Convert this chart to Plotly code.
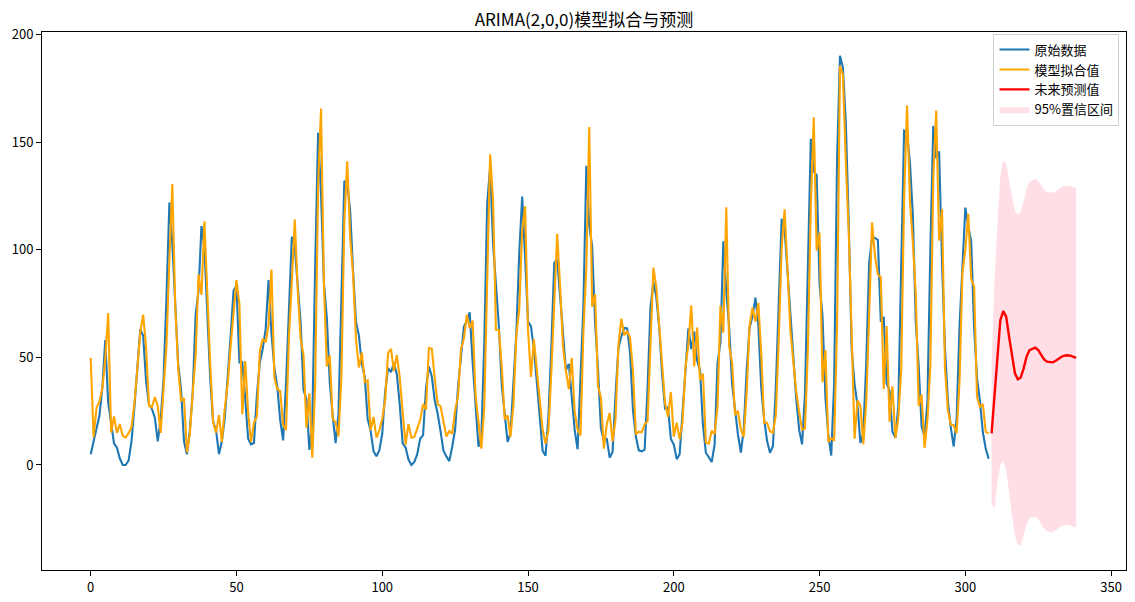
import plotly.graph_objects as go

# Original yearly series (index 0..308)
observed = [5, 11, 16, 23, 36, 58, 29, 20, 10, 8, 3, 0, 0, 2, 11, 27, 47, 63, 60, 39,
            28, 26, 22, 11, 21, 40, 78, 122, 103, 73, 47, 35, 11, 5, 16, 34, 70, 81, 111, 101,
            73, 40, 20, 16, 5, 11, 22, 40, 60, 80.9, 83.4, 47.7, 47.8, 30.7, 12.2, 9.6, 10.2, 32.4, 47.6, 54,
            62.9, 85.9, 61.2, 45.1, 36.4, 20.9, 11.4, 37.8, 69.8, 106.1, 100.8, 81.6, 66.5, 34.8, 30.6, 7, 19.8, 92.5, 154.4, 125.9,
            84.8, 68.1, 38.5, 22.8, 10.2, 24.1, 82.9, 132, 130.9, 118.1, 89.9, 66.6, 60, 46.9, 41, 21.3, 16, 6.4, 4.1, 6.8,
            14.5, 34, 45, 43.1, 47.5, 42.2, 28.1, 10.1, 8.1, 2.5, 0, 1.4, 5, 12.2, 13.9, 35.4, 45.8, 41.1, 30.1, 23.9,
            15.6, 6.6, 4, 1.8, 8.5, 16.6, 36.3, 49.6, 64.2, 67, 70.9, 47.8, 27.5, 8.5, 13.2, 56.9, 121.5, 138.3, 103.2, 85.7,
            64.6, 36.7, 24.2, 10.7, 15, 40.1, 61.5, 98.5, 124.7, 96.3, 66.6, 64.5, 54.1, 39, 20.6, 6.7, 4.3, 22.7, 54.8, 93.8,
            95.8, 77.2, 59.1, 44, 47, 30.5, 16.3, 7.3, 37.6, 74, 139, 111.2, 101.6, 66.2, 44.7, 17, 11.3, 12.4, 3.4, 6,
            32.3, 54.3, 59.7, 63.7, 63.5, 52.2, 25.4, 13.1, 6.8, 6.3, 7.1, 35.6, 73, 85.1, 78, 64, 41.8, 26.2, 26.7, 12.1,
            9.5, 2.7, 5, 24.4, 42, 63.5, 53.8, 62, 48.5, 43.9, 18.6, 5.7, 3.6, 1.4, 9.6, 47.4, 57.1, 103.9, 80.6, 63.6,
            37.6, 26.1, 14.2, 5.8, 16.7, 44.3, 63.9, 69, 77.8, 64.9, 35.7, 21.2, 11.1, 5.7, 8.7, 36.1, 79.7, 114.4, 109.6, 88.8,
            67.8, 47.5, 30.6, 16.3, 9.6, 33.2, 92.6, 151.6, 136.3, 134.7, 83.9, 69.4, 31.5, 13.9, 4.4, 38, 141.7, 190.2, 184.8, 159,
            112.3, 53.9, 37.6, 27.9, 10.2, 15.1, 47, 93.8, 105.9, 105.5, 104.5, 66.6, 68.9, 38, 34.5, 15.5, 12.6, 27.5, 92.5, 155.4,
            154.6, 140.4, 115.9, 66.6, 45.9, 17.9, 13.4, 29.4, 100.2, 157.6, 142.6, 145.7, 94.3, 54.6, 29.9, 17.5, 8.6, 21.5, 64.3, 93.3,
            119.6, 111, 104, 63.7, 40.4, 29.8, 15.2, 7.5, 2.9]

# In-sample fitted values (index 0..308)
fitted = [49.7, 12.9, 26.6, 29.5, 35.7, 49.0, 70.6, 15.1, 22.6, 14.9,
          19.0, 13.5, 12.7, 14.8, 17.6, 28.7, 44.7, 61.5, 69.9, 54.7,
          27.6, 26.8, 31.6, 27.4, 14.9, 36.4, 55.9, 95.6, 130.6, 73.8,
          45.2, 29.8, 31.0, 5.9, 14.2, 33.6, 51.0, 88.6, 79.1, 113.2,
          78.6, 46.6, 20.0, 15.0, 23.2, 10.7, 26.6, 37.8, 55.2, 70.6,
          85.9, 74.9, 23.6, 48.3, 24.5, 10.6, 19.7, 22.4, 52.8, 58.6,
          57.0, 65.0, 90.8, 40.6, 35.3, 34.3, 18.7, 16.2, 59.5, 85.7,
          114.1, 81.7, 58.7, 50.9, 17.3, 33.3, 3.4, 37.5, 129.7, 165.6,
          83.3, 45.8, 51.0, 21.3, 19.9, 13.3, 41.3, 113.4, 141.1, 105.7,
          88.6, 58.3, 45.3, 52.3, 38.6, 39.4, 16.1, 22.3, 12.7, 16.1,
          21.4, 30.3, 52.1, 53.9, 43.7, 51.1, 40.7, 24.7, 9.5, 19.1,
          12.7, 13.1, 16.8, 20.8, 28.3, 25.7, 54.4, 54.0, 40.3, 28.3,
          27.3, 20.0, 13.2, 15.8, 14.5, 25.4, 32.0, 53.8, 58.7, 69.8,
          63.6, 67.1, 32.3, 20.1, 7.6, 27.3, 84.8, 144.4, 123.2, 62.8,
          62.7, 45.5, 21.2, 23.1, 13.0, 28.3, 60.2, 72.6, 109.3, 120.2,
          62.6, 40.9, 58.5, 45.5, 31.7, 16.5, 9.9, 16.2, 43.4, 75.3,
          107.4, 83.2, 55.0, 43.7, 35.2, 49.8, 24.8, 16.4, 13.7, 62.0,
          91.7, 157.0, 73.5, 79.3, 36.7, 31.3, 7.6, 18.8, 24.2, 11.0,
          20.8, 55.6, 68.0, 60.3, 62.2, 59.1, 43.5, 14.1, 15.5, 15.2,
          18.9, 20.3, 59.4, 91.7, 82.7, 64.5, 49.9, 28.7, 22.4, 33.8,
          13.2, 19.7, 12.0, 19.9, 45.3, 56.3, 74.1, 45.8, 63.9, 39.4,
          42.4, 10.4, 9.9, 15.9, 14.3, 27.2, 74.1, 61.5, 119.8, 55.1,
          47.6, 23.2, 25.1, 16.5, 13.1, 34.0, 64.9, 73.1, 66.6, 75.3,
          51.3, 19.6, 19.6, 15.6, 15.1, 23.0, 59.0, 100.7, 118.8, 88.2,
          62.6, 47.8, 34.1, 24.6, 16.4, 16.9, 54.3, 120.6, 161.6, 99.7,
          108.0, 38.5, 53.4, 10.7, 12.4, 11.3, 64.6, 185.5, 181.4, 140.4,
          108.3, 61.2, 12.2, 29.9, 27.6, 9.7, 28.8, 69.7, 112.8, 97.3,
          88.4, 87.3, 35.3, 64.6, 20.1, 36.5, 12.5, 21.6, 44.3, 124.4,
          167.0, 122.5, 103.3, 79.0, 27.4, 32.7, 8.0, 21.1, 46.4, 133.8,
          164.7, 104.3, 118.9, 45.4, 25.6, 18.7, 18.5, 14.7, 38.8, 89.3,
          100.1, 116.7, 86.6, 82.8, 31.6, 27.0, 28.3, 15.4, 14.7]

# Out-of-sample forecast (index 309..338)
forecast = [14.7, 32.8, 50.9, 67.3, 71.5, 68.9, 59.6, 50.3, 42.6, 39.8,
            40.7, 44.9, 50.3, 53.4, 54.0, 54.5, 53.4, 51.1, 49.1, 48.0,
            47.7, 47.7, 48.4, 49.4, 50.3, 50.8, 51.0, 50.8, 50.3, 49.8]
ci_upper = [47.2, 85.8, 111.9, 134.3, 141.5, 139.9, 132.1, 124.3, 118.1, 116.3,
            117.7, 122.4, 128.3, 131.6, 132.4, 133.0, 132.0, 129.8, 127.8, 126.8,
            126.5, 126.5, 127.2, 128.2, 129.1, 129.6, 129.8, 129.6, 129.1, 128.6]
ci_lower = [-17.8, -20.2, -8.5, 0.3, 1.5, -2.1, -12.9, -23.7, -32.9, -37.3,
            -37.2, -32.6, -27.7, -24.8, -24.4, -24.0, -25.2, -27.6, -29.6, -30.8,
            -31.1, -31.1, -30.4, -29.4, -28.5, -28.0, -27.8, -28.0, -28.5, -29.0]

x_obs = list(range(len(observed)))
x_fc = list(range(len(observed), len(observed) + len(forecast)))

FONT = "Noto Sans CJK SC"

fig = go.Figure()
# confidence band drawn first so the lines sit on top of it
fig.add_trace(go.Scatter(x=x_fc + x_fc[::-1], y=ci_upper + ci_lower[::-1],
                         mode="lines", fill="toself", name="95%置信区间", legendrank=4,
                         line=dict(width=0, color="rgba(255,192,203,0.5)"),
                         fillcolor="rgba(255,192,203,0.5)", hoverinfo="skip"))
fig.add_trace(go.Scatter(x=x_obs, y=observed, mode="lines", name="原始数据", legendrank=1,
                         line=dict(color="#1f77b4", width=2.1)))
fig.add_trace(go.Scatter(x=x_obs, y=fitted, mode="lines", name="模型拟合值", legendrank=2,
                         line=dict(color="#FFA500", width=2.1)))
fig.add_trace(go.Scatter(x=x_fc, y=forecast, mode="lines", name="未来预测值", legendrank=3,
                         line=dict(color="#FF0000", width=2.4)))

axis_common = dict(showline=True, mirror=True, linecolor="black", linewidth=1,
                   ticks="outside", ticklen=5, tickwidth=1, tickcolor="black",
                   showgrid=False, zeroline=False, automargin=False,
                   tickfont=dict(family=FONT, size=13, color="black"))

fig.update_layout(
    width=1135, height=602,
    margin=dict(l=42, r=9, t=32, b=32),
    paper_bgcolor="white", plot_bgcolor="white",
    title=dict(text="ARIMA(2,0,0)模型拟合与预测", x=0.5, xref="paper", xanchor="center",
               y=1 - 20 / 602, yref="container", yanchor="middle",
               font=dict(family=FONT, size=17, color="black")),
    xaxis=dict(range=[-16.7, 355.1], tickvals=[0, 50, 100, 150, 200, 250, 300, 350], **axis_common),
    yaxis=dict(range=[-48.8, 201.2], tickvals=[0, 50, 100, 150, 200], **axis_common),
    legend=dict(x=0.994, y=0.997, xanchor="right", yanchor="top",
                bgcolor="rgba(255,255,255,0.8)", bordercolor="#d0d0d0", borderwidth=1,
                font=dict(family=FONT, size=13, color="black"),
                itemwidth=30, tracegroupgap=0),
    showlegend=True,
)

fig.write_html("out.html", config={"displayModeBar": False},
               post_script="document.body.style.margin='0';document.body.style.overflow='hidden';")
